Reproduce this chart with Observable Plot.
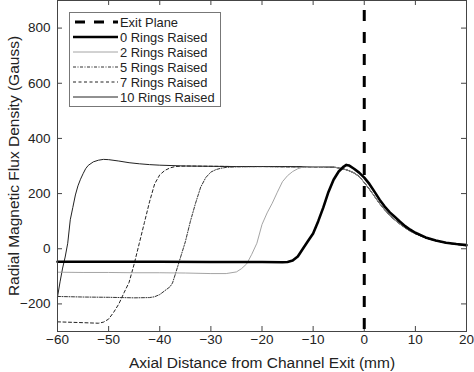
<!DOCTYPE html>
<html><head><meta charset="utf-8">
<script src="https://cdn.jsdelivr.net/npm/d3@7"></script>
<script src="https://cdn.jsdelivr.net/npm/@observablehq/plot@0.6"></script>
<style>
body{margin:0;background:#fff;}
#wrap{position:relative;width:474px;height:372px;font-family:Arial,"Liberation Sans",sans-serif;}
#wrap svg{position:absolute;left:0;top:0;}
</style></head><body><div id="wrap"></div>
<script>
// ---- data ----
const xTicks = [-60, -50, -40, -30, -20, -10, 0, 10, 20];
const yTicks = [-200, 0, 200, 400, 600, 800];
const xLabel = "Axial Distance from Channel Exit (mm)";
const yLabel = "Radial Magnetic Flux Density (Gauss)";
const legendNames = ["Exit Plane", "0 Rings Raised", "2 Rings Raised", "5 Rings Raised", "7 Rings Raised", "10 Rings Raised"];
const exitPlaneX = [0];

const rings0X = [-60,-50,-40,-30,-20,-16,-15,-14,-13,-12,-11,-10,-9,-8,-7,-6,-5,-4,-3.5,-3,-2,-1,0,1,2,3,4,5,6,7,8,9,10,12,14,16,18,20];
const rings0Y = [-47,-47,-47,-48,-48,-49,-48,-43,-28,0,28,55,100,150,206,250,280,298,304,302,290,276,258,235,207,178,153,132,115,98,82,69,58,41,30,22,17,13];

// common fall-off of the raised-ring cases after the exit region
const tailX = [-5,-4,-3,-2,-1,0,1,2,3,4,5,6,7,8,9,10,12,14,16,18,20];
const tailY = [293,289,283,275,262,240,216,190,164,141,121,104,89,76,64,55,39,29,21,16,11];

const rings2X = [-60,-55,-50,-45,-40,-35,-30,-27,-25,-24,-23,-22,-21,-20,-19,-18,-17,-16,-15,-14,-13,-12,-10,-8,-6];
const rings2Y = [-85,-86,-86,-87,-87,-88,-90,-90,-84,-72,-55,-20,20,88,130,165,205,243,265,280,290,296,298,298,297];

const rings5X = [-60,-55,-50,-45,-42,-41,-40,-39,-38,-37.5,-37,-36,-35,-34,-33,-32,-31,-30,-29,-28,-27,-25,-20,-15,-10,-8,-6];
const rings5Y = [-173,-175,-176,-178,-177,-174,-166,-152,-138,-124,-95,-35,25,100,165,223,258,278,287,292,295,297,298,297,297,297,296];

const rings7X = [-60,-55,-52,-51,-50,-49,-48,-47,-46,-45,-44,-43,-42,-41,-40,-39,-38,-37,-36,-35,-30,-25,-20,-15,-10,-8,-6];
const rings7Y = [-265,-268,-270,-266,-255,-230,-200,-160,-122,-55,20,95,170,235,268,284,293,298,299,300,299,298,298,297,297,297,296];

const rings10X = [-60,-59.5,-59,-58.5,-58,-57.5,-57,-56.5,-56,-55.5,-55,-54.5,-54,-53,-52,-51,-50,-48,-46,-44,-42,-40,-35,-30,-25,-20,-15,-10,-8,-6];
const rings10Y = [-175,-120,-70,-30,20,105,150,195,228,252,272,290,302,315,321,324,323,318,312,308,305,303,300,299,298,298,298,297,297,296];

// ---- styles ----
const styles = {
  "0 Rings Raised":  {stroke: "#000", strokeWidth: 2.6, dash: null},
  "2 Rings Raised":  {stroke: "#9a9a9a", strokeWidth: 0.9, dash: null},
  "5 Rings Raised":  {stroke: "#333", strokeWidth: 1, dash: "3,1.5,1,1.5"},
  "7 Rings Raised":  {stroke: "#222", strokeWidth: 1, dash: "3,2.5"},
  "10 Rings Raised": {stroke: "#222", strokeWidth: 1, dash: null}
};

const toRows = (name, xs, ys) => xs.map((x, i) => ({name, x, y: ys[i]}));
const data = [
  ...toRows("10 Rings Raised", rings10X.concat(tailX), rings10Y.concat(tailY)),
  ...toRows("7 Rings Raised", rings7X.concat(tailX), rings7Y.concat(tailY)),
  ...toRows("5 Rings Raised", rings5X.concat(tailX), rings5Y.concat(tailY)),
  ...toRows("2 Rings Raised", rings2X.concat(tailX), rings2Y.concat(tailY)),
  ...toRows("0 Rings Raised", rings0X, rings0Y)
];
const drawOrder = ["10 Rings Raised", "7 Rings Raised", "5 Rings Raised", "2 Rings Raised", "0 Rings Raised"];

const W = 474, H = 372, mL = 57, mR = 8, mT = 0, mB = 41;
const plotW = W - mL - mR, plotH = H - mT - mB;
const axisColor = "#444";
const font = "Arial, 'Liberation Sans', sans-serif";

const lineMarks = drawOrder.map(n => Plot.line(data.filter(d => d.name === n), {
  x: "x", y: "y", stroke: styles[n].stroke, strokeWidth: styles[n].strokeWidth,
  strokeDasharray: styles[n].dash, curve: "linear"
}));

const chart = Plot.plot({
  width: W, height: H,
  marginLeft: mL, marginRight: mR, marginTop: mT, marginBottom: mB,
  style: {fontFamily: font, fontSize: "13.5px", color: "#222", background: "#fff"},
  x: {domain: [-60, 20], ticks: xTicks},
  y: {domain: [-300, 900], ticks: yTicks},
  marks: [
    Plot.axisX({ticks: xTicks, tickSize: 0, tickPadding: 3, label: null, fontSize: 13.5}),
    Plot.axisY({ticks: yTicks, tickSize: 0, tickPadding: 7, label: null, fontSize: 13.5}),
    // inward ticks on all four sides
    Plot.tickX(xTicks, {x: d => d, insetTop: plotH - 5, stroke: axisColor}),
    Plot.tickX(xTicks, {x: d => d, insetBottom: plotH - 5, stroke: axisColor}),
    Plot.tickY(yTicks, {y: d => d, insetRight: plotW - 5, stroke: axisColor}),
    Plot.tickY(yTicks, {y: d => d, insetLeft: plotW - 5, stroke: axisColor}),
    ...lineMarks,
    Plot.ruleX(exitPlaneX, {x: d => d, stroke: "#000", strokeWidth: 3, strokeDasharray: "11,11", strokeDashoffset: 12}),
    Plot.frame({stroke: axisColor}),
    Plot.text([xLabel], {text: d => d, frameAnchor: "bottom", lineAnchor: "middle", textAnchor: "middle", dy: 32, fontSize: 15.5, fill: "#222"}),
    Plot.text([yLabel], {text: d => d, frameAnchor: "left", lineAnchor: "middle", textAnchor: "middle", dx: -43, rotate: -90, fontSize: 15.5, fill: "#222"})
  ]
});
const wrap = document.getElementById("wrap");
wrap.appendChild(chart);

// ---- legend overlay ----
const leg = d3.select(wrap).append("svg").attr("width", W).attr("height", H).style("pointer-events", "none");
const bx = 69.5, by = 12.5, bw = 151, bh = 94;
leg.append("rect").attr("x", bx).attr("y", by).attr("width", bw).attr("height", bh)
  .attr("fill", "#fff").attr("stroke", "#777").attr("stroke-width", 1);
const legStyles = [{stroke: "#000", strokeWidth: 3, dash: "10,9"}].concat(legendNames.slice(1).map(n => styles[n]));
legendNames.forEach((n, i) => {
  const yy = 22 + i * 15;
  const s = legStyles[i];
  const ln = leg.append("line").attr("x1", i === 0 ? 75 : 73).attr("x2", 118).attr("y1", yy).attr("y2", yy)
    .attr("stroke", s.stroke).attr("stroke-width", s.strokeWidth);
  if (s.dash) ln.attr("stroke-dasharray", s.dash);
  leg.append("text").attr("x", 120).attr("y", yy).attr("dy", "0.35em")
    .attr("font-family", font).attr("font-size", 12.9).attr("fill", "#222").text(n);
});
</script></body></html>
